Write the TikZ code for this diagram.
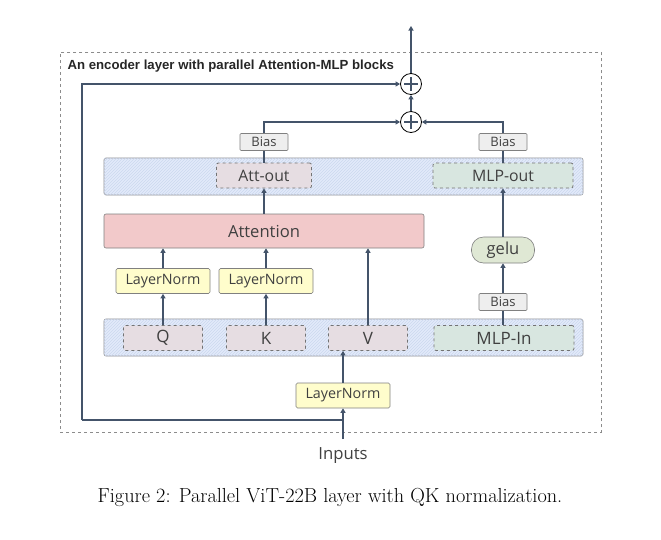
\documentclass[tikz,border=0pt]{standalone}
\usepackage{fontspec}
\setmainfont{Latin Modern Roman}
\newfontfamily\dfont{Open Sans}
\newfontfamily\tfont{Liberation Sans}
\usetikzlibrary{arrows.meta,patterns,calc}
\definecolor{lnc}{HTML}{44546A}
\definecolor{txt}{HTML}{404040}
\definecolor{bandfill}{HTML}{E2EAFA}
\definecolor{bandhatch}{HTML}{CCD8EE}
\definecolor{attfill}{HTML}{F2C9CA}
\definecolor{qkvfill}{HTML}{E6DDE2}
\definecolor{mlpfill}{HTML}{D8E6E0}
\definecolor{gelufill}{HTML}{DFE8D4}
\definecolor{lnfill}{HTML}{FFFDCC}
\definecolor{biasfill}{HTML}{EEEEEE}
\tikzset{
  arr/.style={draw=lnc,line width=1.6pt,-{Triangle[length=4.5pt,width=5pt]}},
  ln/.style={draw=lnc,line width=1.6pt},
  band/.style={draw=black!45,line width=0.6pt,rounded corners=2pt,fill=bandfill,minimum width=479pt,minimum height=37pt},
  inner/.style={draw=black!55,dashed,line width=0.8pt,rounded corners=2pt,minimum height=25pt,font=\dfont\fontsize{15.8}{15.8}\selectfont,text=txt,inner sep=0pt},
  qkv/.style={inner,fill=qkvfill,minimum width=79pt,font=\dfont\fontsize{17}{17}\selectfont},
  mlp/.style={inner,fill=mlpfill,minimum width=140pt},
  lnbox/.style={draw=black!50,line width=0.6pt,rounded corners=1.5pt,fill=lnfill,minimum width=94pt,minimum height=25pt,inner sep=0pt,font=\dfont\fontsize{14.3}{14.3}\selectfont,text=txt},
  biasbox/.style={draw=black!50,line width=0.6pt,rounded corners=1pt,fill=biasfill,minimum width=48pt,minimum height=17pt,inner sep=0pt,font=\dfont\fontsize{13}{13}\selectfont,text=txt},
  plus/.style={circle,draw=black,line width=0.8pt,minimum size=21pt,inner sep=0pt,fill=white},
}
\begin{document}
\begin{tikzpicture}[x=1pt,y=-1pt]
\useasboundingbox (0,0) rectangle (661,539);
% outer frame
\node[draw=black!45,dashed,line width=0.8pt,minimum width=541pt,minimum height=380pt,anchor=north west,inner sep=0pt] (frame) at (60,52) {};
\node[anchor=west,font=\tfont\bfseries\fontsize{13.2}{13.2}\selectfont,text=black!85] (title) at (64,66.5) {An encoder layer with parallel Attention-MLP blocks};
% bands
\node[band] (bandtop) at (343.5,176.5) {};
\fill[pattern=north east lines,pattern color=bandhatch,rounded corners=2pt] (bandtop.south west) rectangle (bandtop.north east);
\node[band] (bandbot) at (343.5,337.5) {};
\fill[pattern=north east lines,pattern color=bandhatch,rounded corners=2pt] (bandbot.south west) rectangle (bandbot.north east);
% inner boxes
\node[inner,fill=qkvfill,minimum width=95pt] (attout) at (264,175.5) {Att-out};
\node[mlp] (mlpout) at (503,175.5) {MLP-out};
\node[qkv] (q) at (163,338) {Q};
\node[qkv] (k) at (266,338) {K};
\node[qkv] (v) at (368,338) {V};
\node[mlp,font=\dfont\fontsize{17}{17}\selectfont] (mlpin) at (504,338) {MLP-In};
% attention
\node[draw=black!50,line width=0.6pt,rounded corners=2pt,fill=attfill,minimum width=320pt,minimum height=34pt,font=\dfont\fontsize{16.6}{16.6}\selectfont,text=txt] (att) at (264,231) {Attention};
\node[draw=black!50,line width=0.6pt,rounded corners=12pt,fill=gelufill,minimum width=63pt,minimum height=26pt,inner sep=0pt,font=\dfont\fontsize{16.5}{16.5}\selectfont,text=txt] (gelu) at (503,250) {gelu};
% layernorms
\node[lnbox] (lnq) at (163,281) {LayerNorm};
\node[lnbox] (lnk) at (266,281) {LayerNorm};
\node[lnbox] (lnin) at (343,395.5) {LayerNorm};
% biases
\node[biasbox] (biasa) at (264,142) {Bias};
\node[biasbox] (biasm) at (503,142) {Bias};
\node[biasbox] (biasi) at (503,302) {Bias};
% plus nodes
\node[plus] (p1) at (411,122) {};
\node[plus] (p2) at (411,84) {};
\foreach \p in {p1,p2}{
  \draw[draw=lnc,line width=1.6pt] ($(\p)+(-7,0)$) -- ($(\p)+(7,0)$);
  \draw[draw=lnc,line width=1.6pt] ($(\p)+(0,-7)$) -- ($(\p)+(0,7)$);
}
% texts
\node[font=\dfont\fontsize{16.7}{16.7}\selectfont,text=txt] (inputs) at (343,455.5) {Inputs};
\node[font=\fontsize{20.3}{20.3}\selectfont] (caption) at (330,497.5) {Figure 2: Parallel ViT-22B layer with QK normalization.};
% coordinates
\coordinate (in) at (343,439);
\coordinate (res) at (343,420);
\coordinate (rl) at (82,420);
\coordinate (out) at (411,26);
% connectors
\draw[arr] (in) -- (lnin);
\draw[arr] (lnin) -- (lnin |- v.south);
\draw[ln] (res) -- (rl);
\draw[arr] (rl) |- (p2);
\draw[arr] (q.north) -- (lnq);
\draw[arr] (k.north) -- (lnk);
\draw[arr] (lnq) -- (lnq |- att.south);
\draw[arr] (lnk) -- (lnk |- att.south);
\draw[arr] (v.north) -- (v |- att.south);
\draw[arr] (att) -- (att |- attout.south);
\draw[ln] (attout) -- (biasa);
\draw[ln] (mlpin.north -| biasi) -- (biasi);
\draw[arr] (biasi) -- (gelu);
\draw[arr] (gelu) -- (mlpout);
\draw[ln] (mlpout) -- (biasm);
\draw[arr] (biasa) |- (p1);
\draw[arr] (biasm) |- (p1);
\draw[arr] (p1) -- (p2);
\draw[arr] (p2) -- (out);
\end{tikzpicture}
\end{document}
